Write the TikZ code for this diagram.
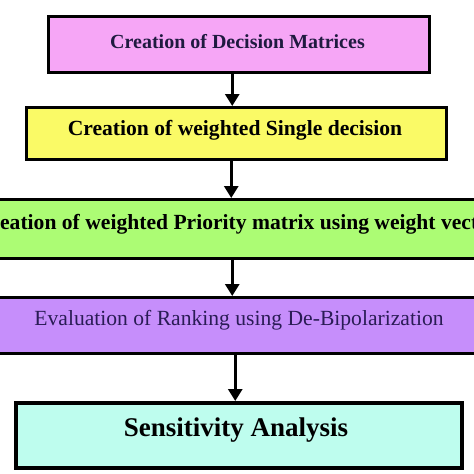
\documentclass[tikz,border=0pt]{standalone}
\usepackage{fontspec}
\setmainfont{Liberation Serif}
\usetikzlibrary{arrows.meta}
\definecolor{pinkbox}{HTML}{F6A6F6}
\definecolor{yellowbox}{HTML}{FAFA66}
\definecolor{greenbox}{HTML}{ACFC74}
\definecolor{purplebox}{HTML}{C68EFB}
\definecolor{cyanbox}{HTML}{BEFDEE}
\definecolor{navytext}{HTML}{1F1A40}
\definecolor{navytextb}{HTML}{2A1C55}
\tikzset{
  box/.style={draw=black, line width=2.5pt, inner sep=0pt, anchor=north west},
  arr/.style={line width=2.8pt, -{Triangle[length=12pt,width=14pt]}, shorten >=0pt},
}
\begin{document}
\begin{tikzpicture}[x=1pt,y=-1pt]
\useasboundingbox (0,0) rectangle (474,474);
\clip (0,0) rectangle (474,474);
\fill[white] (0,0) rectangle (474,474);
% boxes
\node[box, fill=pinkbox, minimum width=381pt, minimum height=56pt] (b1) at (47,15) {};
\node[font=\fontsize{20}{24}\selectfont\bfseries, text=navytext] (t1) at (237.5,42) {Creation of Decision Matrices};
\node[box, fill=yellowbox, minimum width=420pt, minimum height=52pt] (b2) at (25,106) {};
\node[font=\fontsize{21.6}{26}\selectfont\bfseries, text=black] (t2) at (235,130) {Creation of weighted Single decision};
\node[box, fill=greenbox, minimum width=490pt, minimum height=59pt] (b3) at (-8,198) {};
\node[font=\fontsize{21.6}{26}\selectfont\bfseries, text=black] (t3) at (237,224) {Creation of weighted Priority matrix using weight vector};
\node[box, fill=purplebox, minimum width=490pt, minimum height=56pt] (b4) at (-8,296) {};
\node[font=\fontsize{21.6}{26}\selectfont, text=navytextb] (t4) at (239,320) {Evaluation of Ranking using De-Bipolarization};
\node[box, line width=4pt, fill=cyanbox, minimum width=446pt, minimum height=65pt] (b5) at (14,401) {};
\node[font=\fontsize{27}{32}\selectfont\bfseries, text=black] (t5) at (236,430) {Sensitivity Analysis};
% arrows
\draw[arr] ([xshift=-6.5pt]b1.south) -- ([xshift=-6.5pt]b1.south |- b2.north);
\draw[arr] ([xshift=-5pt]b2.south) -- ([xshift=-5pt]b2.south |- b3.north);
\draw[arr] ([xshift=-6pt]b3.south) -- ([xshift=-6pt]b3.south |- b4.north);
\draw[arr] ([xshift=-3pt]b4.south) -- ([xshift=-3pt]b4.south |- b5.north);
\end{tikzpicture}
\end{document}
